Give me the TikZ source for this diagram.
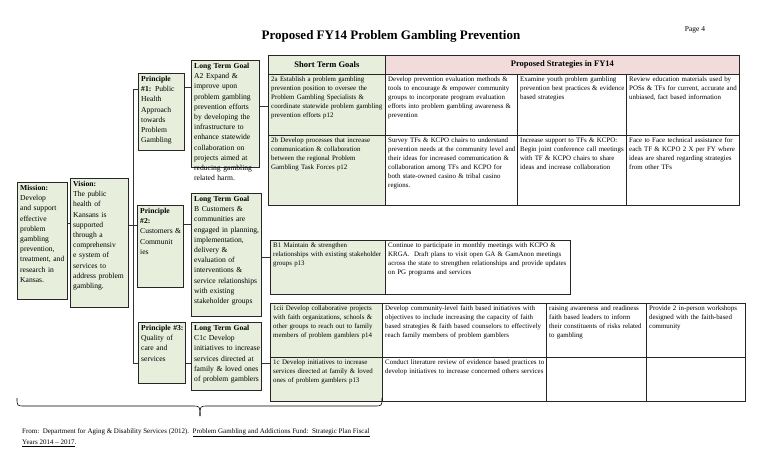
\documentclass[tikz,border=0pt]{standalone}
\usepackage{fontspec}
\setmainfont{Liberation Serif}
\hyphenpenalty=10000
\exhyphenpenalty=10000
\definecolor{gfill}{HTML}{E8EEDC}
\definecolor{pfill}{HTML}{F2DCDB}
\tikzset{
 box/.style={draw=black!85,line width=1.1pt,fill=gfill,inner sep=0pt},
 cell/.style={draw=black!85,line width=0.8pt,inner sep=0pt},
 txt/.style={inner sep=1pt,align=left,font=\fontsize{7.6}{10.2}\selectfont},
 ctxt/.style={inner sep=1pt,align=left,font=\fontsize{6.9}{9}\selectfont},
 conn/.style={line width=0.8pt,black!80}
}
\newcommand\bx[6]{\node[box,minimum width=#4pt,minimum height=#5pt,anchor=north west] (#1) at (#2,#3) {};
 \node[txt,text width=\dimexpr#4pt-4pt\relax,anchor=north west] (#1t) at ([xshift=2pt,yshift=-2pt]#1.north west) {#6};}
\newcommand\cl[7]{\node[cell,fill=#6,minimum width=#4pt,minimum height=#5pt,anchor=north west] (#1) at (#2,#3) {};
 \node[ctxt,text width=\dimexpr#4pt-4pt\relax,anchor=north west] (#1t) at ([xshift=2pt,yshift=-1.5pt]#1.north west) {#7};}
\begin{document}
\begin{tikzpicture}[x=1pt,y=-1pt]
\useasboundingbox (0,0) rectangle (768,466);
\node[font=\bfseries\fontsize{13}{15}\selectfont] (title) at (391,36) {Proposed FY14 Problem Gambling Prevention};
\node[font=\fontsize{7.5}{9}\selectfont] (page) at (695,30) {Page 4};

\bx{mis}{17}{182}{50}{117}{\textbf{Mission:}\\Develop and support effective problem gambling prevention, treatment, and research in Kansas.}
\bx{vis}{70}{178}{58}{129}{\textbf{Vision:}\\The public health of Kansans is supported through a comprehensiv e system of services to address problem gambling.}
\bx{p1}{138}{73}{46}{77}{\textbf{Principle \#1:} Public Health Approach towards Problem Gambling}
\bx{p2}{137}{205}{46}{82}{\textbf{Principle \#2:}\\Customers \&\\Communit ies}
\bx{p3}{138}{322}{47}{61}{\textbf{Principle \#3:}\\Quality of care and services}
\bx{l1}{191}{60}{68}{107}{\textbf{Long Term Goal}\\A2 Expand \& improve upon problem gambling prevention efforts by developing the infrastructure to enhance statewide collaboration on projects aimed at reducing gambling related harm.}
\bx{l2}{191}{193}{70}{123}{\textbf{Long Term Goal}\\B Customers \& communities are engaged in planning, implementation, delivery \& evaluation of interventions \& service relationships with existing stakeholder groups}
\bx{l3}{191}{322}{70}{68}{\textbf{Long Term Goal}\\C1c Develop initiatives to increase services directed at family \& loved ones of problem gamblers}

% table 1
\node[cell,fill=gfill,minimum width=117pt,minimum height=19pt,anchor=north west] (h1) at (268,55) {};
\node[font=\bfseries\fontsize{8.5}{9}\selectfont] (h1t) at (h1) {Short Term Goals};
\node[cell,fill=pfill,minimum width=354pt,minimum height=19pt,anchor=north west] (h2) at (385,55) {};
\node[font=\bfseries\fontsize{8.5}{9}\selectfont] (h2t) at (h2) {Proposed Strategies in FY14};
\cl{a1}{268}{74}{117}{61}{gfill}{2a Establish a problem gambling prevention position to oversee the Problem Gambling Specialists \& coordinate statewide problem gambling prevention efforts p12}
\cl{a2}{385}{74}{132}{61}{white}{Develop prevention evaluation methods \& tools to encourage \& empower community groups to incorporate program evaluation efforts into problem gambling awareness \& prevention}
\cl{a3}{517}{74}{109}{61}{white}{Examine youth problem gambling prevention best practices \& evidence based strategies}
\cl{a4}{626}{74}{113}{61}{white}{Review education materials used by POSs \& TFs for current, accurate and unbiased, fact based information}
\cl{b1}{268}{135}{117}{70}{gfill}{2b Develop processes that increase communication \& collaboration between the regional Problem Gambling Task Forces p12}
\cl{b2}{385}{135}{132}{70}{white}{Survey TFs \& KCPO chairs to understand prevention needs at the community level and their ideas for increased communication \& collaboration among TFs and KCPO for both state-owned casino \& tribal casino regions.}
\cl{b3}{517}{135}{109}{70}{white}{Increase support to TFs \& KCPO: Begin joint conference call meetings with TF \& KCPO chairs to share ideas and increase collaboration}
\cl{b4}{626}{135}{113}{70}{white}{Face to Face technical assistance for each TF \& KCPO 2 X per FY where ideas are shared regarding strategies from other TFs}

% table 2
\cl{c1}{270}{240}{115}{54}{gfill}{B1 Maintain \& strengthen relationships with existing stakeholder groups p13}
\cl{c2}{385}{240}{185}{54}{white}{Continue to participate in monthly meetings with KCPO \& KRGA.\ \ Draft plans to visit open GA \& GamAnon meetings across the state to strengthen relationships and provide updates on PG programs and services}

% table 3
\cl{d1}{270}{303}{112}{54}{gfill}{1cii Develop collaborative projects with faith organizations, schools \& other groups to reach out to family members of problem gamblers p14}
\cl{d2}{382}{303}{164}{54}{white}{Develop community-level faith based initiatives with objectives\ to include increasing the capacity of faith based strategies \& faith based counselors to effectively reach family members of problem gamblers}
\cl{d3}{546}{303}{100}{54}{white}{raising awareness and readiness faith based leaders to inform their constituents of risks related to gambling}
\cl{d4}{646}{303}{99}{54}{white}{Provide 2 in-person workshops\ designed with the faith-based community}
\cl{e1}{270}{357}{112}{44}{gfill}{1c Develop initiatives to increase services directed at family \& loved ones of problem gamblers p13}
\cl{e2}{382}{357}{164}{44}{white}{Conduct literature review of evidence based practices to develop initiatives to increase concerned others services}
\cl{e3}{546}{357}{100}{44}{white}{}
\cl{e4}{646}{357}{99}{44}{white}{}

% connectors
\coordinate (tr1) at (133,89);
\coordinate (tr3) at (133,363);
\draw[conn] (mis.east|-0,223) -- (vis.west|-0,223);
\draw[conn] (p1.west|-tr1) -- (tr1) -- (tr3) -- (p3.west|-tr3);
\draw[conn] (vis.east|-0,225) -- (p2.west|-0,225);
\draw[conn] (p1.east|-0,87) -- (l1.west|-0,87);
\draw[conn] (p2.east|-0,224) -- (l2.west|-0,224);
\draw[conn] (p3.east|-0,363) -- (l3.west|-0,363);
\draw[conn] (l1.east|-0,106) -- (a1.west|-0,106);
\draw[conn] (l2.east|-0,257) -- (c1.west|-0,257);
\draw[conn] (l3.east|-0,363) -- (e1.west|-0,363);

% brace
\draw[line width=0.6pt] (17,398) .. controls (17,406) .. (25,406) -- (192,406) .. controls (200,406) .. (200,416);
\draw[line width=0.6pt] (382,398) .. controls (382,406) .. (374,406) -- (208,406) .. controls (200,406) .. (200,416);

\node[anchor=north west,align=left,inner sep=0pt,font=\fontsize{7}{11.5}\selectfont] (src) at (22,428)
 {From:\ \ Department for Aging \& Disability Services (2012).\ \ \underline{Problem Gambling and Addictions Fund:\ \ Strategic Plan Fiscal}\\\underline{Years 2014 -- 2017}.};
\end{tikzpicture}
\end{document}
